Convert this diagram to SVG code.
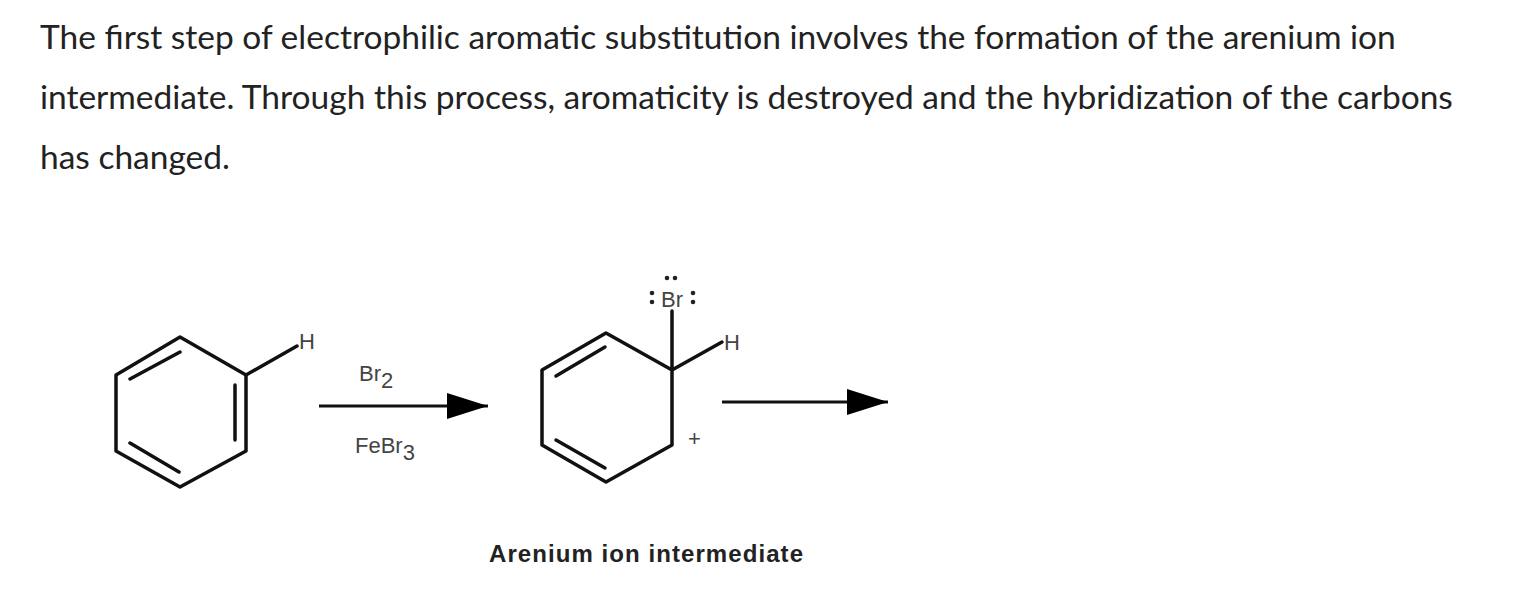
<svg xmlns="http://www.w3.org/2000/svg" width="1522" height="598" viewBox="0 0 1522 598">
<style>
.p{font-family:Lato,"Noto Sans",sans-serif;font-size:33.5px;fill:#222}
.b{stroke:#111;stroke-width:3.5;fill:none;stroke-linecap:round;stroke-linejoin:round}
.c{font-family:"Liberation Sans",Arial,sans-serif;font-size:22px;fill:#444}
.d{fill:#222}
</style>
<defs><marker id="ah" markerWidth="42" markerHeight="26" refX="41" refY="13" orient="auto" markerUnits="userSpaceOnUse"><path d="M0,0L41,13L0,26Z" fill="#000"/></marker></defs>
<rect width="1522" height="598" fill="#fff"/>
<text class="p" x="40" y="49">The first step of electrophilic aromatic substitution involves the formation of the arenium ion</text>
<text class="p" x="40" y="109">intermediate. Through this process, aromaticity is destroyed and the hybridization of the carbons</text>
<text class="p" x="40" y="169">has changed.</text>
<g id="benzene">
<path class="b" d="M180,337L246,375L246,451L180,487L116,451L116,375Z M246,375L297,346 M130,379L180,352 M235,385L235,440 M130,443L179,472"/>
<text class="c" x="299" y="349">H</text>
</g>
<g id="arenium">
<path class="b" d="M606,333L672,370L672,445L606,482L542,445L542,370Z M556,376L605,347 M556,440L605,468 M672,370L672,311 M672,370L722,342"/>
<text class="c" x="724" y="350">H</text>
<text class="c" x="672" y="307" text-anchor="middle" font-size="25">Br</text>
<circle class="d" cx="652" cy="293" r="2.3"/><circle class="d" cx="652" cy="302" r="2.3"/>
<circle class="d" cx="693" cy="293" r="2.3"/><circle class="d" cx="693" cy="302" r="2.3"/>
<circle class="d" cx="667" cy="278" r="2.3"/><circle class="d" cx="675" cy="278" r="2.3"/>
<text class="c" x="688" y="446" font-size="13">+</text>
</g>
<g id="connectors">
<line x1="319" y1="406" x2="488" y2="406" stroke="#111" stroke-width="3" marker-end="url(#ah)"/>
<line x1="722" y1="402" x2="888" y2="402" stroke="#111" stroke-width="3" marker-end="url(#ah)"/>
</g>
<text class="c" x="359" y="381">Br<tspan dy="7">2</tspan></text>
<text class="c" x="355" y="453">FeBr<tspan dy="7">3</tspan></text>
<text x="489" y="562" font-family="Liberation Sans,Arial,sans-serif" font-weight="bold" font-size="24" textLength="314" fill="#222">Arenium ion intermediate</text>
</svg>
